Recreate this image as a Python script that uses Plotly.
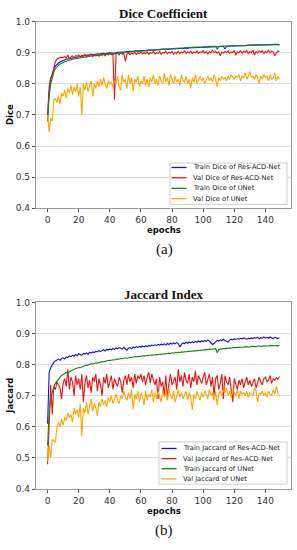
import plotly.graph_objects as go

epochs = list(range(150))

dice_train_res = [
    0.690, 0.775, 0.815, 0.835, 0.848, 0.857, 0.863, 0.867, 0.870, 0.873,
    0.875, 0.877, 0.879, 0.880, 0.882, 0.883, 0.884, 0.886, 0.887, 0.887,
    0.889, 0.889, 0.890, 0.891, 0.891, 0.892, 0.893, 0.893, 0.894, 0.894,
    0.895, 0.895, 0.896, 0.896, 0.897, 0.897, 0.898, 0.897, 0.899, 0.899,
    0.900, 0.899, 0.900, 0.898, 0.901, 0.901, 0.902, 0.901, 0.902, 0.903,
    0.903, 0.904, 0.903, 0.905, 0.904, 0.905, 0.906, 0.905, 0.906, 0.907,
    0.906, 0.907, 0.907, 0.908, 0.907, 0.908, 0.909, 0.908, 0.909, 0.910,
    0.909, 0.910, 0.910, 0.911, 0.910, 0.911, 0.912, 0.911, 0.912, 0.912,
    0.913, 0.912, 0.913, 0.914, 0.913, 0.914, 0.914, 0.915, 0.914, 0.915,
    0.915, 0.916, 0.915, 0.916, 0.916, 0.917, 0.916, 0.917, 0.917, 0.918,
    0.917, 0.918, 0.918, 0.918, 0.919, 0.918, 0.919, 0.919, 0.920, 0.919,
    0.920, 0.920, 0.920, 0.921, 0.912, 0.921, 0.921, 0.921, 0.922, 0.921,
    0.922, 0.922, 0.922, 0.923, 0.922, 0.923, 0.923, 0.923, 0.924, 0.923,
    0.924, 0.924, 0.924, 0.924, 0.925, 0.924, 0.925, 0.925, 0.925, 0.925,
    0.926, 0.925, 0.926, 0.926, 0.926, 0.926, 0.927, 0.926, 0.927, 0.926,
]

dice_val_res = [
    0.700, 0.790, 0.820, 0.822, 0.850, 0.872, 0.880, 0.882, 0.884, 0.886,
    0.885, 0.888, 0.883, 0.893, 0.879, 0.887, 0.890, 0.884, 0.891, 0.889,
    0.893, 0.886, 0.892, 0.889, 0.895, 0.887, 0.893, 0.890, 0.896, 0.888,
    0.894, 0.891, 0.897, 0.889, 0.895, 0.892, 0.898, 0.890, 0.896, 0.893,
    0.899, 0.894, 0.897, 0.750, 0.896, 0.899, 0.893, 0.900, 0.895, 0.898,
    0.872, 0.896, 0.900, 0.894, 0.899, 0.896, 0.901, 0.895, 0.900, 0.897,
    0.902, 0.896, 0.900, 0.897, 0.903, 0.895, 0.901, 0.898, 0.904, 0.896,
    0.900, 0.898, 0.904, 0.895, 0.901, 0.899, 0.905, 0.897, 0.902, 0.899,
    0.904, 0.896, 0.901, 0.898, 0.905, 0.897, 0.902, 0.900, 0.906, 0.898,
    0.903, 0.899, 0.905, 0.897, 0.902, 0.900, 0.906, 0.898, 0.903, 0.901,
    0.907, 0.899, 0.904, 0.896, 0.903, 0.900, 0.908, 0.901, 0.905, 0.898,
    0.904, 0.890, 0.902, 0.899, 0.905, 0.900, 0.906, 0.898, 0.903, 0.901,
    0.907, 0.892, 0.904, 0.900, 0.906, 0.899, 0.905, 0.901, 0.907, 0.897,
    0.904, 0.900, 0.908, 0.893, 0.905, 0.899, 0.906, 0.901, 0.907, 0.898,
    0.905, 0.900, 0.908, 0.899, 0.906, 0.902, 0.891, 0.899, 0.905, 0.904,
]

dice_train_unet = [
    0.680, 0.760, 0.800, 0.822, 0.838, 0.848, 0.855, 0.860, 0.864, 0.867,
    0.869, 0.871, 0.873, 0.875, 0.876, 0.878, 0.879, 0.880, 0.881, 0.882,
    0.883, 0.884, 0.885, 0.886, 0.886, 0.887, 0.888, 0.889, 0.889, 0.890,
    0.891, 0.891, 0.892, 0.892, 0.893, 0.894, 0.894, 0.895, 0.895, 0.896,
    0.896, 0.897, 0.897, 0.896, 0.898, 0.898, 0.899, 0.899, 0.900, 0.900,
    0.901, 0.901, 0.902, 0.902, 0.903, 0.903, 0.904, 0.904, 0.905, 0.905,
    0.906, 0.906, 0.907, 0.907, 0.907, 0.908, 0.908, 0.909, 0.909, 0.910,
    0.910, 0.910, 0.911, 0.911, 0.912, 0.912, 0.912, 0.913, 0.913, 0.913,
    0.914, 0.914, 0.914, 0.915, 0.915, 0.915, 0.916, 0.916, 0.916, 0.917,
    0.917, 0.917, 0.917, 0.918, 0.918, 0.918, 0.918, 0.919, 0.919, 0.919,
    0.919, 0.920, 0.920, 0.920, 0.920, 0.921, 0.921, 0.921, 0.921, 0.911,
    0.920, 0.921, 0.922, 0.922, 0.922, 0.922, 0.922, 0.923, 0.923, 0.923,
    0.923, 0.923, 0.923, 0.924, 0.924, 0.924, 0.924, 0.924, 0.924, 0.925,
    0.925, 0.925, 0.925, 0.925, 0.925, 0.925, 0.926, 0.926, 0.926, 0.926,
    0.926, 0.926, 0.926, 0.926, 0.926, 0.927, 0.927, 0.927, 0.927, 0.924,
]

dice_val_unet = [
    0.700, 0.645, 0.690, 0.680, 0.750, 0.752, 0.740, 0.760, 0.735, 0.770,
    0.760, 0.780, 0.755, 0.785, 0.770, 0.795, 0.765, 0.790, 0.775, 0.800,
    0.760, 0.790, 0.700, 0.800, 0.780, 0.805, 0.775, 0.795, 0.810, 0.760,
    0.800, 0.785, 0.810, 0.790, 0.815, 0.795, 0.820, 0.800, 0.785, 0.810,
    0.800, 0.805, 0.790, 0.810, 0.800, 0.825, 0.790, 0.780, 0.830, 0.805,
    0.815, 0.785, 0.830, 0.800, 0.820, 0.778, 0.815, 0.805, 0.825, 0.790,
    0.810, 0.800, 0.825, 0.795, 0.815, 0.790, 0.820, 0.805, 0.830, 0.800,
    0.815, 0.795, 0.825, 0.810, 0.800, 0.835, 0.805, 0.820, 0.795, 0.830,
    0.810, 0.800, 0.825, 0.805, 0.815, 0.795, 0.830, 0.810, 0.805, 0.825,
    0.800, 0.815, 0.785, 0.820, 0.805, 0.830, 0.800, 0.815, 0.825, 0.810,
    0.820, 0.800, 0.815, 0.825, 0.810, 0.820, 0.805, 0.830, 0.815, 0.790,
    0.820, 0.810, 0.825, 0.815, 0.820, 0.810, 0.825, 0.815, 0.830, 0.820,
    0.815, 0.825, 0.820, 0.830, 0.810, 0.825, 0.820, 0.835, 0.815, 0.825,
    0.840, 0.820, 0.825, 0.815, 0.830, 0.820, 0.800, 0.825, 0.815, 0.830,
    0.820, 0.825, 0.810, 0.830, 0.815, 0.820, 0.835, 0.810, 0.825, 0.815,
]

jac_train_res = [
    0.610, 0.775, 0.790, 0.800, 0.808, 0.812, 0.815, 0.818, 0.814, 0.820,
    0.822, 0.818, 0.825, 0.823, 0.828, 0.826, 0.830, 0.827, 0.833, 0.829,
    0.835, 0.832, 0.830, 0.836, 0.834, 0.838, 0.833, 0.840, 0.837, 0.841,
    0.839, 0.843, 0.841, 0.845, 0.842, 0.846, 0.848, 0.844, 0.849, 0.847,
    0.850, 0.848, 0.852, 0.849, 0.854, 0.851, 0.855, 0.853, 0.850, 0.856,
    0.852, 0.846, 0.853, 0.855, 0.851, 0.857, 0.854, 0.858, 0.855, 0.859,
    0.856, 0.860, 0.857, 0.861, 0.858, 0.862, 0.860, 0.863, 0.861, 0.864,
    0.862, 0.865, 0.863, 0.866, 0.864, 0.867, 0.863, 0.868, 0.865, 0.869,
    0.866, 0.870, 0.867, 0.871, 0.868, 0.857, 0.865, 0.870, 0.868, 0.872,
    0.869, 0.873, 0.870, 0.874, 0.871, 0.875, 0.872, 0.876, 0.873, 0.877,
    0.874, 0.878, 0.875, 0.879, 0.876, 0.870, 0.865, 0.868, 0.875, 0.878,
    0.876, 0.880, 0.877, 0.881, 0.878, 0.876, 0.873, 0.879, 0.882, 0.880,
    0.883, 0.881, 0.884, 0.882, 0.885, 0.883, 0.886, 0.884, 0.882, 0.885,
    0.883, 0.886, 0.884, 0.887, 0.885, 0.888, 0.883, 0.887, 0.885, 0.889,
    0.886, 0.888, 0.885, 0.889, 0.887, 0.884, 0.888, 0.886, 0.884, 0.887,
]

jac_val_res = [
    0.480, 0.620, 0.735, 0.640, 0.730, 0.720, 0.745, 0.735, 0.725, 0.690,
    0.740, 0.755, 0.730, 0.785, 0.720, 0.760, 0.745, 0.700, 0.765, 0.735,
    0.755, 0.720, 0.770, 0.680, 0.740, 0.765, 0.725, 0.750, 0.710, 0.760,
    0.745, 0.770, 0.715, 0.755, 0.735, 0.700, 0.760, 0.740, 0.770, 0.725,
    0.745, 0.765, 0.720, 0.755, 0.740, 0.730, 0.760, 0.745, 0.710, 0.750,
    0.765, 0.735, 0.770, 0.745, 0.760, 0.725, 0.770, 0.740, 0.765, 0.755,
    0.770, 0.745, 0.765, 0.735, 0.760, 0.775, 0.740, 0.770, 0.750, 0.735,
    0.755, 0.690, 0.760, 0.730, 0.745, 0.700, 0.765, 0.690, 0.740, 0.770,
    0.735, 0.750, 0.760, 0.720, 0.785, 0.745, 0.765, 0.730, 0.775, 0.750,
    0.740, 0.770, 0.725, 0.760, 0.745, 0.780, 0.735, 0.765, 0.750, 0.740,
    0.760, 0.775, 0.735, 0.750, 0.770, 0.730, 0.760, 0.700, 0.755, 0.765,
    0.720, 0.740, 0.770, 0.690, 0.765, 0.745, 0.735, 0.760, 0.725, 0.680,
    0.755, 0.740, 0.720, 0.750, 0.735, 0.755, 0.725, 0.745, 0.760, 0.735,
    0.750, 0.730, 0.745, 0.755, 0.725, 0.740, 0.760, 0.745, 0.735, 0.755,
    0.760, 0.745, 0.750, 0.765, 0.740, 0.755, 0.750, 0.758, 0.752, 0.762,
]

jac_train_unet = [
    0.540, 0.650, 0.690, 0.715, 0.730, 0.740, 0.748, 0.755, 0.760, 0.765,
    0.768, 0.772, 0.775, 0.774, 0.778, 0.781, 0.783, 0.785, 0.787, 0.789,
    0.791, 0.790, 0.793, 0.795, 0.797, 0.799, 0.798, 0.801, 0.803, 0.802,
    0.804, 0.806, 0.805, 0.807, 0.808, 0.810, 0.809, 0.811, 0.812, 0.814,
    0.813, 0.815, 0.816, 0.815, 0.818, 0.817, 0.819, 0.820, 0.819, 0.821,
    0.822, 0.820, 0.823, 0.824, 0.823, 0.825, 0.826, 0.825, 0.827, 0.826,
    0.828, 0.827, 0.829, 0.828, 0.830, 0.829, 0.831, 0.830, 0.832, 0.831,
    0.833, 0.832, 0.834, 0.833, 0.835, 0.834, 0.836, 0.835, 0.837, 0.836,
    0.838, 0.837, 0.839, 0.838, 0.840, 0.839, 0.841, 0.840, 0.842, 0.841,
    0.843, 0.842, 0.844, 0.843, 0.845, 0.844, 0.846, 0.845, 0.847, 0.846,
    0.848, 0.847, 0.849, 0.848, 0.850, 0.849, 0.851, 0.850, 0.852, 0.838,
    0.848, 0.851, 0.850, 0.852, 0.851, 0.853, 0.852, 0.854, 0.853, 0.855,
    0.854, 0.856, 0.855, 0.857, 0.856, 0.857, 0.856, 0.858, 0.857, 0.858,
    0.857, 0.859, 0.858, 0.859, 0.858, 0.860, 0.859, 0.860, 0.859, 0.861,
    0.860, 0.861, 0.860, 0.862, 0.861, 0.862, 0.861, 0.862, 0.860, 0.863,
]

jac_val_unet = [
    0.490, 0.540, 0.500, 0.560, 0.555, 0.550, 0.600, 0.615, 0.600, 0.625,
    0.605, 0.630, 0.620, 0.645, 0.630, 0.640, 0.615, 0.660, 0.640, 0.655,
    0.630, 0.675, 0.570, 0.660, 0.645, 0.680, 0.640, 0.665, 0.690, 0.650,
    0.675, 0.660, 0.635, 0.680, 0.665, 0.690, 0.670, 0.685, 0.665, 0.695,
    0.680, 0.700, 0.675, 0.690, 0.705, 0.685, 0.675, 0.700, 0.690, 0.715,
    0.695, 0.685, 0.710, 0.690, 0.720, 0.655, 0.705, 0.690, 0.715, 0.680,
    0.710, 0.695, 0.670, 0.715, 0.685, 0.705, 0.695, 0.720, 0.680, 0.710,
    0.690, 0.715, 0.700, 0.680, 0.720, 0.695, 0.710, 0.685, 0.725, 0.700,
    0.690, 0.715, 0.680, 0.705, 0.720, 0.695, 0.710, 0.690, 0.700, 0.715,
    0.685, 0.710, 0.695, 0.655, 0.705, 0.690, 0.715, 0.700, 0.685, 0.710,
    0.695, 0.715, 0.705, 0.690, 0.720, 0.700, 0.710, 0.685, 0.715, 0.670,
    0.705, 0.715, 0.700, 0.720, 0.710, 0.725, 0.700, 0.715, 0.695, 0.720,
    0.710, 0.700, 0.720, 0.690, 0.715, 0.705, 0.710, 0.700, 0.715, 0.695,
    0.710, 0.705, 0.700, 0.725, 0.715, 0.680, 0.710, 0.705, 0.715, 0.700,
    0.710, 0.695, 0.715, 0.705, 0.700, 0.720, 0.705, 0.730, 0.710, 0.700,
]

y_ticks = [0.4, 0.5, 0.6, 0.7, 0.8, 0.9, 1.0]
x_ticks = [0, 20, 40, 60, 80, 100, 120, 140]

dice_names = ["Train Dice of Res-ACD-Net", "Val Dice of Res-ACD-Net",
              "Train Dice of UNet", "Val Dice of UNet"]
jac_names = ["Train Jaccard of Res-ACD-Net", "Val Jaccard of Res-ACD-Net",
             "Train Jaccard of UNet", "Val Jaccard of UNet"]
colors = ["#1010ee", "#ee1111", "#108a10", "#ffa500"]

W, H = 297, 550


def px(x):
    return x / W


def py(y):
    return 1 - y / H


fig = go.Figure()

dice_series = [dice_train_res, dice_val_res, dice_train_unet, dice_val_unet]
jac_series = [jac_train_res, jac_val_res, jac_train_unet, jac_val_unet]

for name, ys, c in zip(dice_names, dice_series, colors):
    fig.add_trace(go.Scatter(x=epochs, y=ys, mode="lines", name=name,
                             line=dict(color=c, width=1.1), xaxis="x", yaxis="y",
                             showlegend=False))
for name, ys, c in zip(jac_names, jac_series, colors):
    fig.add_trace(go.Scatter(x=epochs, y=ys, mode="lines", name=name,
                             line=dict(color=c, width=1.1), xaxis="x2", yaxis="y2",
                             showlegend=False))

xdom = [px(36), px(291)]
top_dom = [py(207), py(17)]
bot_dom = [py(493), py(303)]

axis_common = dict(
    showline=True, linecolor="#9a9a9a", linewidth=1.3, mirror=True,
    ticks="outside", ticklen=3, tickcolor="#555", tickwidth=1,
    tickfont=dict(family="DejaVu Sans", size=9, color="#333"),
    zeroline=False,
)

fig.update_layout(
    width=W, height=H,
    margin=dict(l=0, r=0, t=0, b=0),
    paper_bgcolor="white", plot_bgcolor="white",
    showlegend=False,
    xaxis=dict(domain=xdom, anchor="y", range=[-7.45, 156.45],
               tickvals=x_ticks, showgrid=False, **axis_common),
    yaxis=dict(domain=top_dom, anchor="x", range=[0.4, 1.0],
               tickvals=y_ticks, ticktext=[f"{v:.1f}" for v in y_ticks],
               showgrid=True, gridcolor="#dcdcdc", gridwidth=1, **axis_common),
    xaxis2=dict(domain=xdom, anchor="y2", range=[-7.45, 156.45],
                tickvals=x_ticks, showgrid=False, **axis_common),
    yaxis2=dict(domain=bot_dom, anchor="x2", range=[0.4, 1.0],
                tickvals=y_ticks, ticktext=[f"{v:.1f}" for v in y_ticks],
                showgrid=True, gridcolor="#dcdcdc", gridwidth=1, **axis_common),
)

ann = []
shapes = []


def text(x, y, s, font, xanchor="center", **kw):
    ann.append(dict(x=px(x), y=py(y), xref="paper", yref="paper", text=s,
                    showarrow=False, font=font, xanchor=xanchor,
                    yanchor="middle", borderpad=0, **kw))


title_font = dict(family="Liberation Serif", size=13, color="#111")
lab_font = dict(family="DejaVu Sans", size=8.5, color="#111")
cap_font = dict(family="Liberation Serif", size=15, color="#111")

text(163.5, 9, "<b>Dice Coefficient</b>", title_font)
text(163.5, 229, "<b>epochs</b>", lab_font)
text(10, 112, "<b>Dice</b>", lab_font, textangle=-90)
text(164, 249, "(a)", cap_font)

text(163.5, 295, "<b>Jaccard Index</b>", title_font)
text(163.5, 515, "<b>epochs</b>", lab_font)
text(10, 398, "<b>Jaccard</b>", lab_font, textangle=-90)
text(164, 535, "(b)", cap_font)


def legend(x0, x1, y0, y1, rows, line_x0, line_x1, text_x, names):
    shapes.append(dict(type="rect", xref="paper", yref="paper",
                       x0=px(x0), x1=px(x1), y0=py(y1), y1=py(y0),
                       line=dict(color="#cfcfcf", width=1), fillcolor="white",
                       layer="above"))
    for ry, name, c in zip(rows, names, colors):
        shapes.append(dict(type="line", xref="paper", yref="paper",
                           x0=px(line_x0), x1=px(line_x1), y0=py(ry), y1=py(ry),
                           line=dict(color=c, width=1.3), layer="above"))
        text(text_x, ry, name, dict(family="DejaVu Sans", size=6.7, color="#222"),
             xanchor="left")


legend(170, 287, 161, 203, [165.5, 176, 186.7, 197.3], 171.5, 186.5, 192, dice_names)
legend(159, 287, 445, 488, [451.7, 462, 472.3, 482.7], 161.5, 176.5, 181.5, jac_names)

fig.update_layout(annotations=ann, shapes=shapes)

fig.write_html(
    "out.html",
    config={"displayModeBar": False},
    post_script="document.body.style.margin='0';"
                "document.documentElement.style.overflow='hidden';",
)
